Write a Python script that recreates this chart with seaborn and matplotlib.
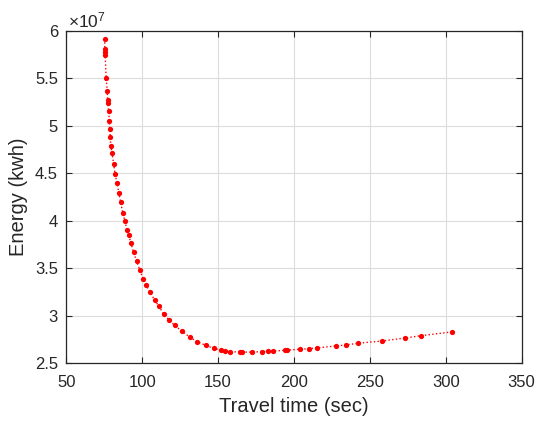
import matplotlib
matplotlib.use("Agg")
import matplotlib.pyplot as plt
import seaborn as sns
import numpy as np
import pandas as pd
from matplotlib.ticker import FuncFormatter

# Data (energy in units of 1e7 kWh)
travel_time = [75.3, 75.4, 75.5, 75.6, 76.3, 77.0, 77.2, 77.4, 77.9, 78.3,
               78.6, 78.9, 79.4, 80.1, 81.2, 82.2, 83.4, 84.7, 85.8, 87.3,
               88.6, 90.1, 91.1, 92.6, 94.3, 96.3, 98.5, 100.7, 102.6, 105.1,
               108.2, 111.0, 114.3, 117.6, 121.5, 126.1, 131.2, 136.0, 142.1, 147.2,
               151.6, 154.4, 157.7, 164.3, 165.6, 172.4, 179.0, 182.9, 186.2, 194.4,
               195.2, 203.7, 209.9, 215.4, 227.5, 234.1, 242.2, 258.0, 273.0, 283.8,
               303.8]
energy_e7 = [5.92, 5.81, 5.78, 5.75, 5.50, 5.37, 5.27, 5.24, 5.16, 5.05,
             4.97, 4.88, 4.79, 4.72, 4.60, 4.49, 4.40, 4.29, 4.20, 4.08,
             4.00, 3.90, 3.85, 3.77, 3.67, 3.58, 3.48, 3.39, 3.33, 3.25,
             3.17, 3.10, 3.02, 2.96, 2.90, 2.84, 2.78, 2.73, 2.69, 2.66,
             2.64, 2.63, 2.625, 2.62, 2.62, 2.62, 2.625, 2.63, 2.63, 2.64,
             2.64, 2.65, 2.655, 2.665, 2.684, 2.695, 2.713, 2.737, 2.768, 2.793,
             2.832]
x_ticks = [50, 100, 150, 200, 250, 300, 350]
y_ticks = [2.5, 3, 3.5, 4, 4.5, 5, 5.5, 6]

df = pd.DataFrame({"t": travel_time, "e": energy_e7})

sns.set_style("white")
plt.rcParams["font.family"] = ["Liberation Sans", "DejaVu Sans"]
plt.rcParams["mathtext.fontset"] = "custom"
plt.rcParams["mathtext.rm"] = "Liberation Sans"
plt.rcParams["mathtext.it"] = "Liberation Sans"

fig = plt.figure(figsize=(5.5, 4.21), dpi=100)
ax = fig.add_axes([0.1205, 0.1366, 0.828, 0.7898])

sns.lineplot(data=df, x="t", y="e", ax=ax, color="#ff0000", sort=False,
             linestyle=":", linewidth=1.0, marker="o", markersize=3.8,
             markeredgewidth=0)

ax.set_xlim(50, 350)
ax.set_ylim(2.5, 6)
ax.set_xticks(x_ticks)
ax.set_yticks(y_ticks)
ax.yaxis.set_major_formatter(FuncFormatter(lambda v, p: f"{v:g}"))
ax.grid(True, color="#dcdcdc", linewidth=0.8)
ax.set_axisbelow(True)
for s in ax.spines.values():
    s.set_color("#262626")
    s.set_linewidth(0.9)
    s.set_visible(True)
ax.tick_params(direction="in", length=4, width=0.8, color="#262626",
               labelcolor="#262626", labelsize=12, top=True, right=True,
               bottom=True, left=True)
ax.tick_params(axis="x", pad=8)
ax.tick_params(axis="y", pad=6)
ax.set_xlabel("Travel time (sec)", fontsize=14.5, color="#262626", labelpad=5)
ax.set_ylabel("Energy (kwh)", fontsize=14.5, color="#262626", labelpad=5)
ax.text(0.003, 1.012, r"$\times\mathrm{10}^{\mathrm{7}}$", transform=ax.transAxes,
        fontsize=12.5, color="#262626", ha="left", va="baseline")

fig.savefig("out.png", dpi=100)
